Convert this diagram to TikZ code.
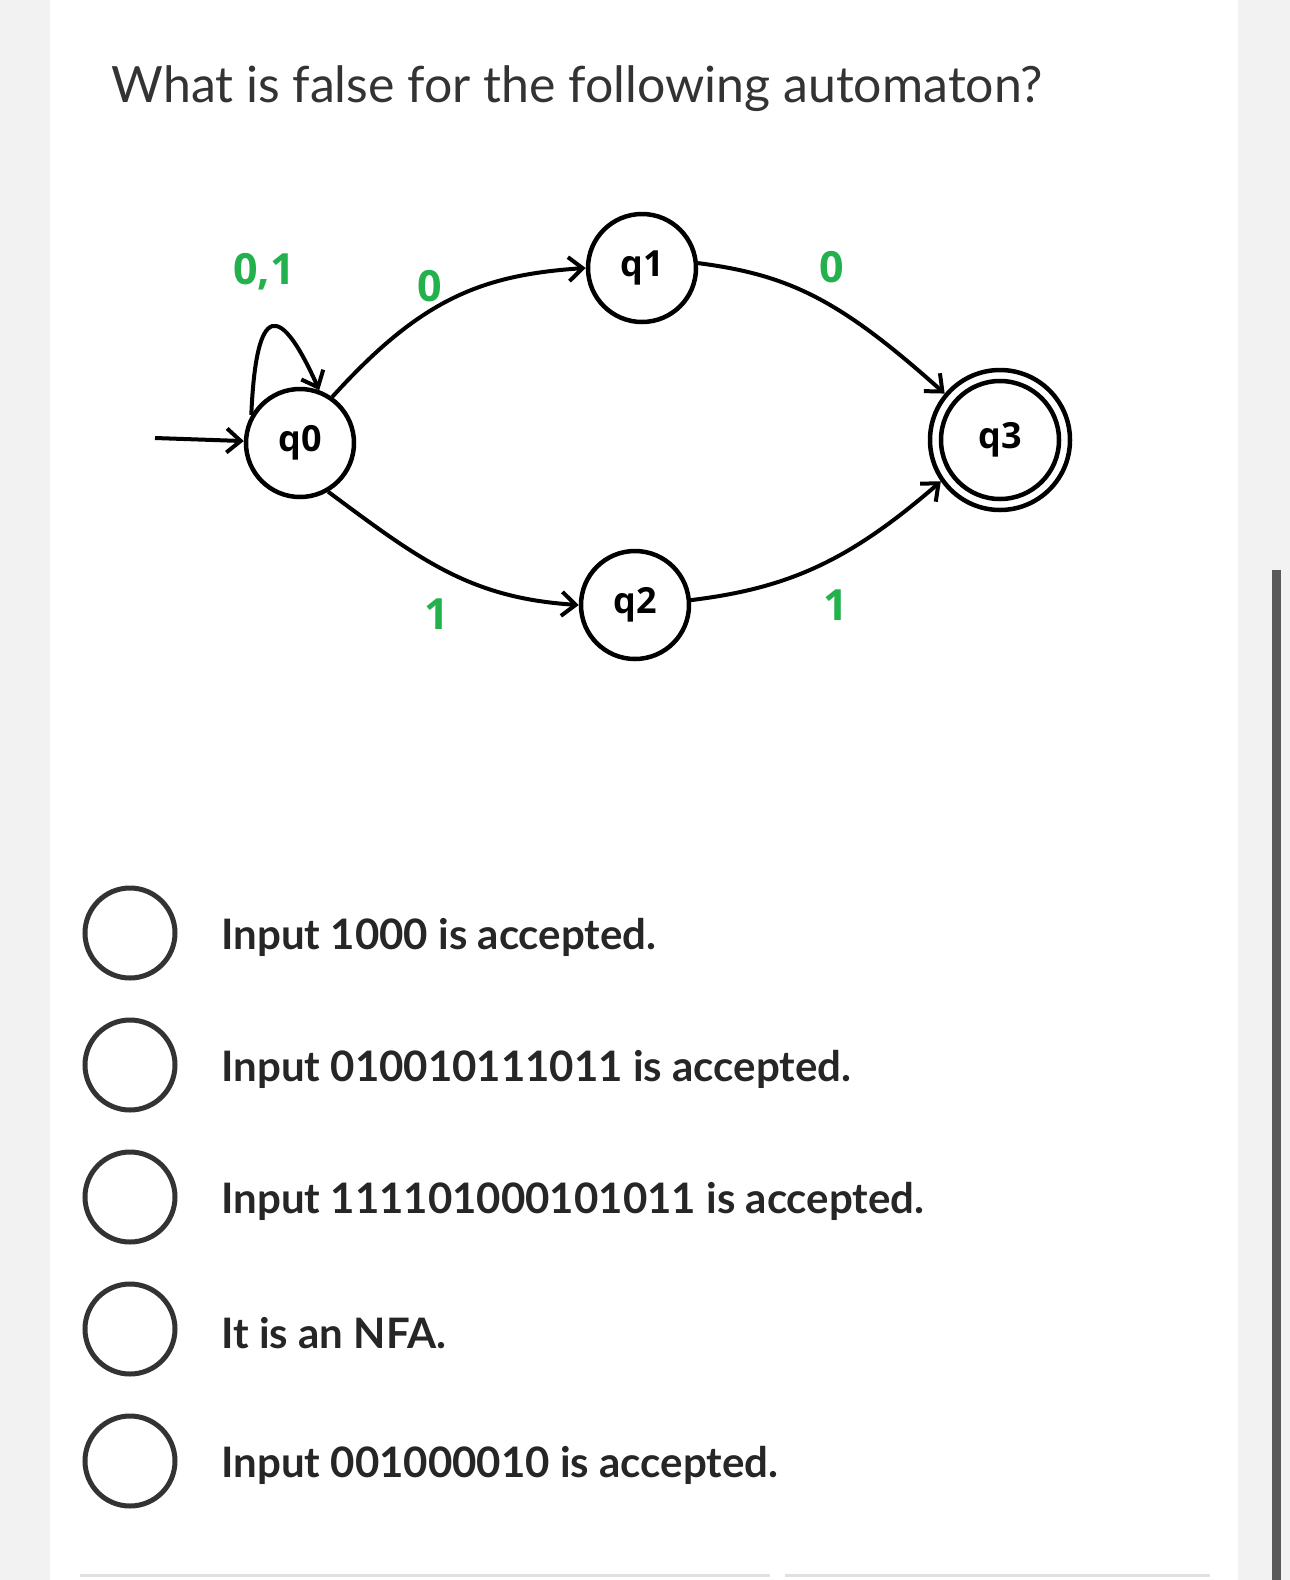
\documentclass[tikz,border=0pt]{standalone}
\usepackage{fontspec}
\setmainfont{Lato}
\newfontfamily\lblfont{Open Sans}
\usetikzlibrary{arrows.meta}
\definecolor{paintgreen}{HTML}{22B14C}
\definecolor{bggray}{HTML}{F2F2F2}
\tikzset{
 st/.style={circle,draw=black,line width=4.5pt,minimum size=108pt,inner sep=0pt,font=\lblfont\bfseries\fontsize{36}{36}\selectfont},
 edge/.style={line width=4pt,-{Straight Barb[length=14pt,width=24pt,line width=4pt]}},
 lbl/.style={text=paintgreen,font=\lblfont\bfseries\fontsize{43}{43}\selectfont},
 radio/.style={circle,draw=black!80,line width=5pt,minimum size=90pt,inner sep=0pt},
 opt/.style={anchor=west,font=\bfseries\fontsize{42}{42}\selectfont,text=black!85}
}
\begin{document}
\begin{tikzpicture}[x=1pt,y=-1pt]
\useasboundingbox (0,0) rectangle (1290,1580);
\fill[bggray] (0,0) rectangle (1290,1580);
\fill[white] (50,0) rectangle (1238,1580);
\fill[black!65] (1272,570) rectangle (1281,1580);
\draw[black!12,line width=3pt] (80,1575) -- (770,1575) (785,1575) -- (1210,1575);
\node[anchor=west,font=\fontsize{50}{50}\selectfont,text=black!80] (title) at (108,89) {What is false for the following automaton?};
\node[st] (q0) at (300,443) {q0};
\node[st] (q1) at (642,268) {q1};
\node[st] (q2) at (635,605) {q2};
\node[circle,draw=black,line width=4.5pt,minimum size=140pt,inner sep=0pt] (q3) at (1000,440) {};
\node[st,minimum size=118pt] (q3i) at (1000,440) {q3};
\coordinate (init) at (155,438);
\draw[edge] (init) -- (q0);
\draw[edge] (q0.150) .. controls (255,330) and (270,280) .. (q0.70);
\draw[edge] (q0.55) .. controls (420,300) and (480,275) .. (q1.180);
\draw[edge] (q0.-60) .. controls (420,560) and (470,598) .. (q2.180);
\draw[edge] (q1.5) .. controls (790,275) and (840,300) .. (q3.140);
\draw[edge] (q2.5) .. controls (790,588) and (850,560) .. (q3.-145);
\node[lbl] (l01) at (264,272) {0,1};
\node[lbl] (l0a) at (430,286) {0};
\node[lbl] (l0b) at (832,267) {0};
\node[lbl] (l1a) at (437,614) {1};
\node[lbl] (l1b) at (836,605) {1};
\foreach \y/\t [count=\i] in {937/Input 1000 is accepted.,1069/Input 010010111011 is accepted.,1201/Input 111101000101011 is accepted.,1333/It is an NFA.,1465/Input 001000010 is accepted.}{
 \node[radio] (r\i) at (130,\y-4) {};
 \node[opt] (o\i) at (218,\y) {\t};
}
\end{tikzpicture}
\end{document}
